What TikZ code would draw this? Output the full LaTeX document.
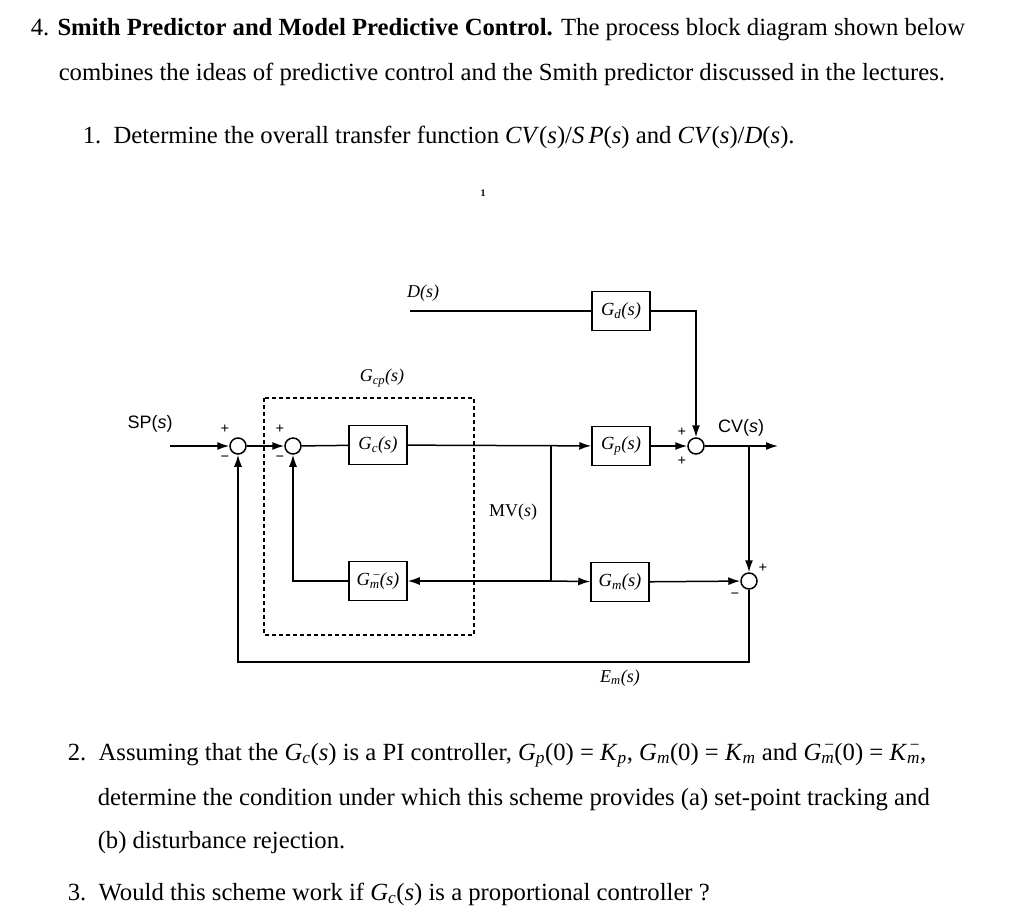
\documentclass[tikz,border=0pt]{standalone}
\usepackage{fontspec}
\setmainfont{Liberation Serif}
\newfontfamily\sansf{Liberation Sans}
\usetikzlibrary{arrows.meta}
\newcommand{\sbs}[1]{\textsubscript{\itshape #1}}
\newcommand{\GMm}{\textit{G}\rlap{\textsuperscript{\,−}}\sbs{m}}
\newcommand{\KMm}{\textit{K}\rlap{\textsuperscript{\,−}}\sbs{m}}
\begin{document}
\begin{tikzpicture}[x=1pt,y=-1pt,
  txt/.style={anchor=base west,inner sep=0,font=\fontsize{24.7}{29}\selectfont},
  blk/.style={draw,line width=1.5pt,minimum width=58,minimum height=39,inner sep=0,font=\fontsize{18.5}{21}\selectfont\itshape},
  sumc/.style={draw,circle,line width=1.5pt,minimum size=16,inner sep=0},
  lbl/.style={inner sep=0,font=\fontsize{18}{20}\selectfont},
  sgn/.style={inner sep=0,font=\fontsize{15}{16}\selectfont\bfseries},
  arr/.style={-{Latex[length=12,width=8]}},
  line width=1.5pt]
\useasboundingbox (0,0) rectangle (1024,914);
% text
\node[txt] (t1) at (30,35) {4. \textbf{Smith Predictor and Model Predictive Control.} The process block diagram shown below};
\node[txt] (t2) at (58,80) {combines the ideas of predictive control and the Smith predictor discussed in the lectures.};
\node[txt] (t3) at (82,143) {1.\ \ Determine the overall transfer function \textit{CV}(\textit{s})/\textit{S\,P}(\textit{s}) and \textit{CV}(\textit{s})/\textit{D}(\textit{s}).};
\node[inner sep=0,font=\fontsize{10}{12}\selectfont\bfseries] (pg) at (483,193) {1};
\node[txt] (t4) at (67,760) {2.\ \ Assuming that the \textit{G}\sbs{c}(\textit{s}) is a PI controller, \textit{G}\sbs{p}(0) = \textit{K}\sbs{p}, \textit{G}\sbs{m}(0) = \textit{K}\sbs{m} and \GMm(0) = \KMm,};
\node[txt] (t5) at (97,805) {determine the condition under which this scheme provides (a) set-point tracking and};
\node[txt] (t6) at (97,848) {(b) disturbance rejection.};
\node[txt] (t7) at (67,900) {3.\ \ Would this scheme work if \textit{G}\sbs{c}(\textit{s}) is a proportional controller ?};
% diagram
\node[sumc] (s1) at (238,446) {};
\node[sumc] (s2) at (293,446) {};
\node[blk] (gc) at (378,445) {G\sbs{c}(s)};
\node[blk] (gp) at (621,446) {G\sbs{p}(s)};
\node[blk] (gd) at (621,311) {G\sbs{d}(s)};
\node[sumc] (s3) at (696,446) {};
\node[blk] (gm) at (620,582) {G\sbs{m}(s)};
\node[blk] (gmi) at (378,581) {\GMm(s)};
\node[sumc] (s4) at (749,581) {};
\coordinate (spin) at (170,446);
\coordinate (dstart) at (410,311);
\coordinate (out) at (778,446);
\coordinate (jb) at (551,446);
\coordinate (jc) at (551,581);
\coordinate (cvb) at (749,446);
\coordinate (bc) at (238,662);
\draw[dashed,line width=1.3pt,dash pattern=on 4pt off 3pt] (264,398) rectangle (474,635);
\draw[arr] (spin) -- (s1);
\draw[arr] (s1) -- (s2);
\draw (s2) -- (gc);
\draw[arr] (gc) -- (gp);
\draw[arr] (gp) -- (s3);
\draw[arr] (s3) -- (out);
\draw (dstart) -- (gd);
\draw[arr] (gd.east) -| (s3);
\draw (jb) -- (jc);
\draw[arr] (jc) -- (gm);
\draw[arr] (jc) -- (gmi);
\draw[arr] (gm) -- (s4);
\draw[arr] (cvb) -- (s4);
\draw[arr] (gmi.west) -| (s2);
\draw[arr] (s4) |- (bc) -- (s1);
% labels
\node[lbl] (ld) at (423,293) {\itshape D(s)};
\node[lbl] (lgcp) at (382,378) {\itshape G\sbs{cp}(s)};
\node[lbl] (lsp) at (150,424) {\sansf SP(\textit{s})};
\node[lbl] (lcv) at (741,428) {\sansf CV(\textit{s})};
\node[lbl] (lmv) at (513,512) {MV(\textit{s})};
\node[lbl] (lem) at (620,678) {\itshape E\sbs{m}(s)};
% signs
\node[sgn] at (225,429) {+};
\node[sgn] at (225,459) {−};
\node[sgn] at (280,429) {+};
\node[sgn] at (280,459) {−};
\node[sgn] at (682,432) {+};
\node[sgn] at (682,461) {+};
\node[sgn] at (763,568) {+};
\node[sgn] at (735,596) {−};
\end{tikzpicture}
\end{document}
